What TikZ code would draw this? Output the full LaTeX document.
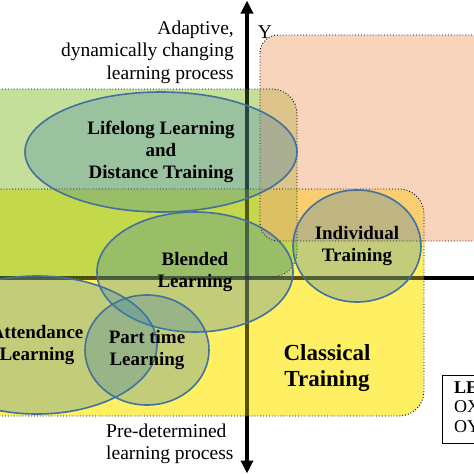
\documentclass[tikz,border=0pt]{standalone}
\usepackage{fontspec}
\setmainfont{Liberation Serif}
\usetikzlibrary{shapes.geometric,arrows.meta}
\definecolor{yel}{RGB}{255,234,34}
\definecolor{grn}{RGB}{139,193,55}
\definecolor{sal}{RGB}{245,171,125}
\definecolor{ellf}{RGB}{57,127,172}
\definecolor{elld}{RGB}{65,113,156}
\tikzset{
  region/.style={draw=black, dotted, line width=0.9pt},
  oval/.style={ellipse, draw=elld, line width=1.6pt, fill=ellf, fill opacity=0.3, text opacity=1, inner sep=0pt, align=center, font=\bfseries\fontsize{19}{22}\selectfont},
  axis/.style={line width=3.5pt},
  lbl/.style={font=\fontsize{19.5}{22.5}\selectfont, inner sep=0pt},
  legtxt/.style={font=\fontsize{18}{20}\selectfont, inner sep=0pt, anchor=west},
}
\begin{document}
\begin{tikzpicture}[x=1pt,y=-1pt]
\useasboundingbox (0,0) rectangle (474,474);
\clip (0,0) rectangle (474,474);
\fill[white] (0,0) rectangle (474,474);
% axes (base)
\coordinate (ytop) at (247,0.5);
\coordinate (ybot) at (247,473.5);
\coordinate (xl) at (-5,278);
\coordinate (xr) at (480,278);
\draw[axis, {Triangle[length=13pt,width=12pt]}-{Triangle[length=13pt,width=12pt]}] (ybot) -- (ytop);
\draw[axis] (xl) -- (xr);
% regions
\fill[yel, fill opacity=0.7, rounded corners=25] (-30,189) rectangle (424,416);
\fill[grn, fill opacity=0.5, rounded corners=25] (-30,89) rectangle (297,277);
\fill[sal, fill opacity=0.5, rounded corners=18] (260,35) rectangle (520,241);
\draw[region, rounded corners=25] (-30,189) rectangle (424,416);
\draw[region, rounded corners=25] (-30,89) rectangle (297,277);
\draw[region, rounded corners=18] (260,35) rectangle (520,241);
% axes overlay
\draw[line width=3.5pt, draw opacity=0.5] (247,15) -- (247,460);
\draw[line width=3.5pt, draw opacity=0.5] (xl) -- (xr);
% ellipses
\node[oval, minimum width=272pt, minimum height=120pt] (lifelong) at (161,152) {Lifelong Learning\\and\\Distance Training};
\node[oval, minimum width=196pt, minimum height=120pt] (blended) at (195,272) {Blended\\Learning};
\node[oval, minimum width=128pt, minimum height=112pt] (individual) at (357,246) {Individual\\Training};
\node[oval, minimum width=240pt, minimum height=138pt] (attend) at (37,345) {Attendance\\Learning};
\node[oval, minimum width=124pt, minimum height=110pt] (parttime) at (147,350) {Part time\\Learning};
% texts
\node[font=\bfseries\fontsize{23}{26}\selectfont, align=center, inner sep=0pt] (classical) at (327,368) {Classical\\Training};
\node[lbl, align=right, anchor=east] (adaptive) at (234,52) {Adaptive,\\dynamically changing\\learning process};
\node[lbl] (ylab) at (265,32) {Y};
\node[lbl, align=left, anchor=west] (predet) at (106,444) {Pre-determined\\learning process};
% legend
\node[draw, line width=0.8pt, anchor=north west, minimum width=60pt, minimum height=68pt, inner sep=0pt] (legend) at (442,375) {};
\node[legtxt, font=\bfseries\fontsize{18}{20}\selectfont] (leg1) at (454,388) {LE};
\node[legtxt] (leg2) at (454,407) {OX};
\node[legtxt] (leg3) at (454,427) {OY};
\end{tikzpicture}
\end{document}
